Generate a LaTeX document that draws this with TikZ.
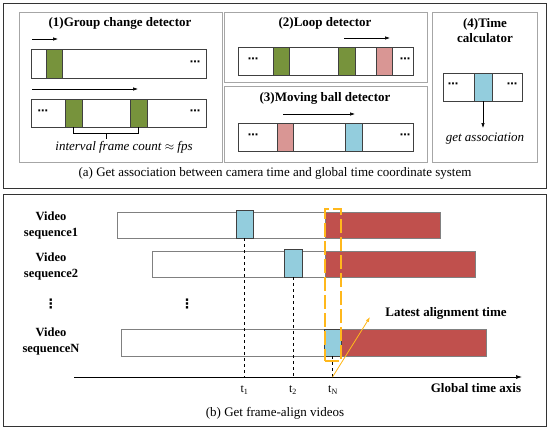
\documentclass[tikz,border=0pt]{standalone}
\usepackage{fontspec}
\setmainfont{Liberation Serif}
\newfontfamily\symfont{DejaVu Sans}
\usepackage{amsmath}
\usepackage{amssymb}
\usepackage{tikz}
\usetikzlibrary{positioning,arrows.meta}
\definecolor{boxgray}{HTML}{A6A6A6}
\definecolor{stripgray}{HTML}{404040}
\definecolor{grp}{HTML}{77933C}
\definecolor{loopc}{HTML}{D99694}
\definecolor{ballc}{HTML}{93CDDD}
\definecolor{redc}{HTML}{C0504D}
\definecolor{orangec}{HTML}{FFB81C}

\begin{document}
\begin{tikzpicture}[x=1pt,y=-1pt,
  panel/.style={draw=boxgray,line width=0.8pt},
  strip/.style={draw=stripgray,fill=white,line width=0.6pt,inner sep=0pt,outer sep=0pt,minimum height=28pt},
  cell/.style={draw=stripgray,line width=0.6pt,inner sep=0pt,outer sep=0pt,minimum width=17pt,minimum height=28pt},
  title/.style={font=\fontsize{13}{15}\selectfont\bfseries,align=center},
  captxt/.style={font=\fontsize{13}{15}\selectfont},
  dotx/.style={font=\symfont\bfseries\fontsize{10.5}{11}\selectfont,inner sep=0pt},
  vdotx/.style={font=\symfont\bfseries\fontsize{13}{13}\selectfont,inner sep=0pt},
  lab/.style={font=\fontsize{12.5}{16}\selectfont\bfseries,align=center},
  move/.style={-{Latex[length=5pt,width=3.5pt]},line width=0.6pt}]
      \useasboundingbox (0,0) rectangle (550,429);
      % (a) panel
      \draw[line width=0.9pt,draw=black!80] (3,3) rectangle (546,188);
      \draw[panel] (19,12) rectangle (222,162);
      \draw[panel] (224,12) rectangle (427,82);
      \draw[panel] (224,86) rectangle (427,162);
      \draw[panel] (432,12) rectangle (537,162);
      \node[captxt](capa) at (275,173){(a) Get association between camera time and global time coordinate system};
      % (1) group change
      \node[title](t1) at (120,23){(1)Group change detector};
      \coordinate (a1s) at (32,39); \coordinate (a1e) at (58,39);
      \draw[move] (a1s) -- (a1e);
      \node[strip,minimum width=175pt,minimum height=29pt](s1) at (118.5,63.5){};
      \node[cell,fill=grp,minimum width=16pt,minimum height=29pt](g1) at (54,63.5){};
      \node[dotx](d1) at (195,63){⋯};
      \coordinate (a2s) at (32,89); \coordinate (a2e) at (138,89);
      \draw[move] (a2s) -- (a2e);
      \node[strip,minimum width=175pt](s2) at (118.5,113){};
      \node[cell,fill=grp](g2) at (73.5,113){};
      \node[cell,fill=grp](g3) at (138.5,113){};
      \node[dotx](d2) at (43,112){⋯};
      \node[dotx](d3) at (195,112){⋯};
      \draw[line width=0.6pt] (g2.south) -- ++(0,6) coordinate(br1) -- (br1 -| g3.south) -- (g3.south);
      \draw[line width=0.6pt] (106,134) -- (106,139);
      \node[font=\fontsize{13}{15}\selectfont\itshape](intv) at (124,147){interval frame count $\approx$ \textit{fps}};
      % (2) loop
      \node[title](t2) at (325,23){(2)Loop detector};
      \coordinate (a3s) at (344,38); \coordinate (a3e) at (390,38);
      \draw[move] (a3s) -- (a3e);
      \node[strip,minimum width=175pt](s3) at (325.5,61){};
      \node[cell,fill=grp,minimum width=16pt](g4) at (281,61){};
      \node[cell,fill=grp](g5) at (346.5,61){};
      \node[cell,fill=loopc,minimum width=16pt](p1) at (384,61){};
      \node[dotx](d4) at (253,60){⋯};
      \node[dotx](d5) at (405,60){⋯};
      % (3) moving ball
      \node[title](t3) at (325,98){(3)Moving ball detector};
      \coordinate (a4s) at (283,114); \coordinate (a4e) at (355,114);
      \draw[move] (a4s) -- (a4e);
      \node[strip,minimum width=175pt](s4) at (325.5,137){};
      \node[cell,fill=loopc,minimum width=16pt](p2) at (285,137){};
      \node[cell,fill=ballc](b0) at (353.5,137){};
      \node[dotx](d6) at (253,136){⋯};
      \node[dotx](d7) at (405,136){⋯};
      % (4) time calculator
      \node[title](t4) at (485,30.5){(4)Time\\calculator};
      \node[strip,minimum width=79pt](s5) at (482.5,87){};
      \node[cell,fill=ballc,minimum width=18pt](bc) at (483,87){};
      \node[dotx](d8) at (453,85){⋯};
      \node[dotx](d9) at (512,85){⋯};
      \node[font=\fontsize{13}{15}\selectfont\itshape](assoc) at (485,139){get association};
      \draw[move] (bc.south) -- (bc.south |- 0,128);
      % (b) panel
      \draw[line width=0.9pt,draw=black!80] (3,194) rectangle (546,426);
      \node[captxt](capb) at (275,413){(b) Get frame-align videos};
      \node[lab](v1) at (51,225){Video\\sequence1};
      \node[lab](v2) at (51,266){Video\\sequence2};
      \node[lab](v3) at (51,341){Video\\sequenceN};
      \node[vdotx](vd1) at (51,304){⋮};
      \node[vdotx](vd2) at (187,304){⋮};
      \node[strip,draw=gray,minimum width=323pt,minimum height=26pt](q1) at (278.5,225){};
      \node[cell,draw=gray,fill=redc,minimum width=115pt,minimum height=26pt](r1) at (382.5,225){};
      \node[cell,fill=ballc](b1) at (244.5,224){};
      \node[strip,draw=gray,minimum width=323pt,minimum height=26pt](q2) at (313.5,264){};
      \node[cell,draw=gray,fill=redc,minimum width=150pt,minimum height=26pt](r2) at (400,264){};
      \node[cell,fill=ballc,minimum width=18pt](b2) at (293,263){};
      \node[strip,draw=gray,minimum width=365pt,minimum height=27pt](q3) at (303.5,342.5){};
      \node[cell,draw=gray,fill=redc,minimum width=145pt,minimum height=27pt](r3) at (413.5,342.5){};
      \node[cell,fill=ballc,minimum height=27pt](b3) at (332.5,342.5){};
      % time axis
      \coordinate (ax0) at (74,377); \coordinate (ax1) at (522,377);
      \draw[-{Latex[length=6pt,width=4pt]},line width=0.7pt] (ax0) -- (ax1);
      \node[lab,font=\fontsize{13}{15}\selectfont\bfseries](gta) at (476,388){Global time axis};
      \draw[dashed,line width=0.5pt] (b1.south) -- (b1.south |- ax0);
      \draw[dashed,line width=0.5pt] (b2.south) -- (b2.south |- ax0);
      \draw[dashed,line width=0.5pt] (b3.south) -- (b3.south |- ax0);
      \node[captxt,font=\fontsize{12}{14}\selectfont](tl1) at (244.5,390){t\textsubscript{1}};
      \node[captxt,font=\fontsize{12}{14}\selectfont](tl2) at (293,390){t\textsubscript{2}};
      \node[captxt,font=\fontsize{12}{14}\selectfont](tl3) at (333,390){t\textsubscript{N}};
      % alignment
      \node[draw=orangec,line width=1.6pt,dash pattern=on 14pt off 4pt,inner sep=0pt,minimum width=16pt,minimum height=152pt](align) at (333,285){};
      \draw[-{Latex[length=5pt,width=3.5pt]},draw=orangec,fill=orangec,line width=0.8pt] (b3.south |- ax0) -- (370,317) coordinate(la);
      \node[lab,font=\fontsize{13}{15}\selectfont\bfseries](lat) at (446,313){Latest alignment time};
\end{tikzpicture}
\end{document}
